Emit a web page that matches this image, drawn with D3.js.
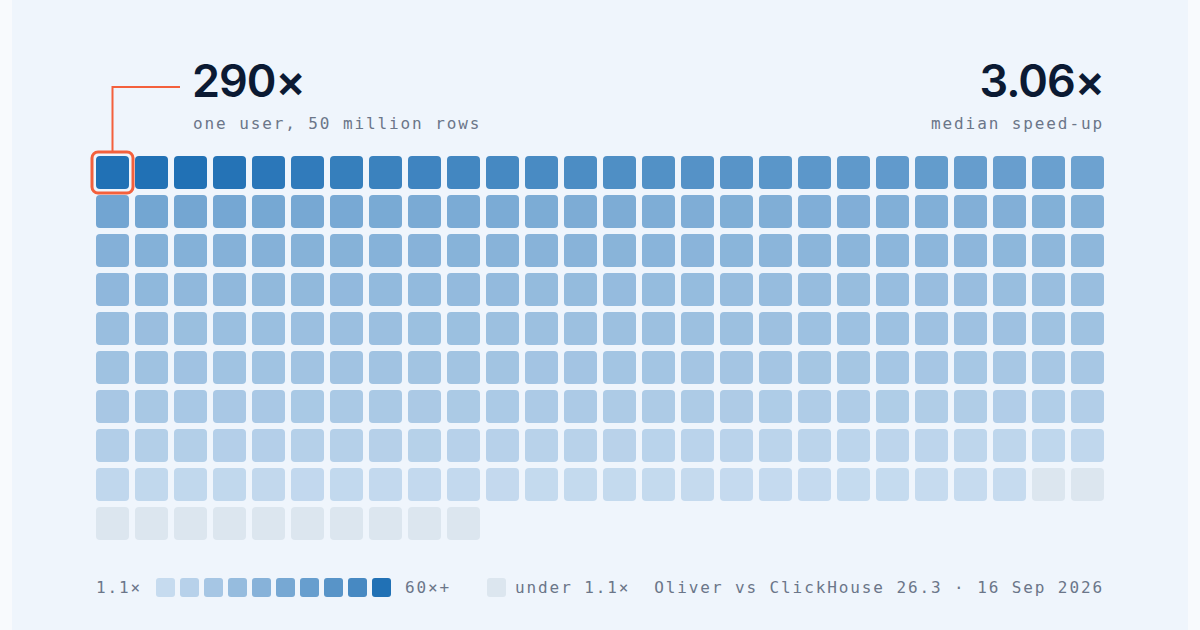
<!DOCTYPE html>
<html>
<head>
<meta charset="utf-8">
<script src="https://cdn.jsdelivr.net/npm/d3@7"></script>
<style>
  html, body { margin: 0; padding: 0; background: #f8fafd; }
  svg { display: block; }
</style>
</head>
<body>
<svg id="chart" width="1200" height="630"></svg>
<script>
// speed-up per query, sorted high to low
const speedups = [
  290, 84, 66, 55, 47, 41, 36, 32, 29, 26.5, 24.5, 22.5, 21, 19.5, 18.2, 17, 16, 15, 14.2, 13.4, 12.6, 12, 11.4, 10.8, 10.2, 9.6,
  8.4, 8.2, 8.0, 7.8, 7.6, 7.4, 7.25, 7.1, 6.95, 6.8, 6.7, 6.6, 6.5, 6.4, 6.3, 6.2, 6.1, 6.0, 5.95, 5.9, 5.85, 5.8, 5.75, 5.7, 5.65, 5.6,
  5.5, 5.45, 5.4, 5.35, 5.3, 5.25, 5.2, 5.15, 5.1, 5.05, 5.0, 4.95, 4.9, 4.85, 4.8, 4.75, 4.7, 4.65, 4.6, 4.55, 4.5, 4.45, 4.4, 4.35, 4.3, 4.25,
  4.2, 4.15, 4.1, 4.05, 4.0, 3.96, 3.92, 3.88, 3.84, 3.8, 3.76, 3.72, 3.68, 3.64, 3.6, 3.57, 3.54, 3.51, 3.48, 3.45, 3.42, 3.39, 3.36, 3.33, 3.3, 3.27,
  3.25, 3.23, 3.21, 3.19, 3.17, 3.15, 3.13, 3.11, 3.1, 3.09, 3.08, 3.07, 3.06, 3.06, 3.05, 3.04, 3.02, 3.0, 2.98, 2.96, 2.94, 2.92, 2.9, 2.88, 2.86, 2.84,
  2.82, 2.8, 2.78, 2.76, 2.74, 2.72, 2.7, 2.68, 2.66, 2.64, 2.62, 2.6, 2.58, 2.56, 2.54, 2.52, 2.5, 2.48, 2.46, 2.44, 2.42, 2.4, 2.38, 2.36, 2.34, 2.32,
  2.3, 2.28, 2.26, 2.24, 2.22, 2.2, 2.18, 2.16, 2.14, 2.12, 2.1, 2.08, 2.06, 2.04, 2.02, 2.0, 1.98, 1.96, 1.94, 1.92, 1.9, 1.88, 1.86, 1.84, 1.82, 1.8,
  1.78, 1.76, 1.74, 1.72, 1.7, 1.68, 1.66, 1.64, 1.62, 1.6, 1.58, 1.56, 1.54, 1.52, 1.5, 1.48, 1.46, 1.44, 1.42, 1.4, 1.38, 1.36, 1.34, 1.32, 1.3, 1.28,
  1.26, 1.25, 1.24, 1.23, 1.22, 1.21, 1.2, 1.19, 1.18, 1.17, 1.165, 1.16, 1.155, 1.15, 1.145, 1.14, 1.135, 1.13, 1.125, 1.12, 1.115, 1.11, 1.105, 1.1, 1.05, 1.02,
  1.0, 0.98, 0.95, 0.92, 0.9, 0.86, 0.82, 0.78, 0.7, 0.6
];
const headline = "290×";
const headlineSub = "one user, 50 million rows";
const median = "3.06×";
const medianSub = "median speed-up";
const legendSteps = [1.1, 1.6, 2.4, 3.5, 5.1, 7.5, 11, 16, 24, 60];
const legendLow = "1.1×", legendHigh = "60×+", legendUnder = "under 1.1×";
const source = "Oliver vs ClickHouse 26.3 · 16 Sep 2026";

const cols = 26, cell = 33, pitch = 39;
const gridLeft = 96, gridTop = 156;
const mono = "DejaVu Sans Mono, monospace";
const sans = "Inter, sans-serif";
const spacing = "1.9px";

const svg = d3.select("#chart");
svg.append("rect").attr("x", 12).attr("y", 0).attr("width", 1176).attr("height", 630).attr("fill", "#eff5fc");

const color = d3.scaleLog().domain([1.1, 60]).range(["#c6dbef", "#2171b5"])
  .interpolate(d3.interpolateRgb).clamp(true);
const fill = v => v < 1.1 ? "#dce6ef" : color(v);

const x = d3.scaleLinear().domain([0, 1]).range([gridLeft, gridLeft + pitch]);
const y = d3.scaleLinear().domain([0, 1]).range([gridTop, gridTop + pitch]);

svg.append("g").selectAll("rect")
  .data(speedups)
  .enter()
    .append("rect")
    .attr("x", (d, i) => x(i % cols))
    .attr("y", (d, i) => y(Math.floor(i / cols)))
    .attr("width", cell)
    .attr("height", cell)
    .attr("rx", 4)
    .attr("fill", d => fill(d));

// highlight on the biggest one
svg.append("rect")
  .attr("x", x(0) - 4).attr("y", y(0) - 4)
  .attr("width", cell + 8).attr("height", cell + 8).attr("rx", 6)
  .attr("fill", "none").attr("stroke", "#f4603c").attr("stroke-width", 3);
svg.append("path")
  .attr("d", `M${x(0) + cell / 2},${y(0) - 5}V87H180`)
  .attr("fill", "none").attr("stroke", "#f4603c").attr("stroke-width", 2);

svg.append("text").attr("x", 192).attr("y", 97)
  .style("font-family", sans).style("font-weight", 600).style("font-size", "45px").style("letter-spacing", "-1px")
  .attr("fill", "#0b1a33").text(headline);
svg.append("text").attr("x", 193).attr("y", 129)
  .style("font-family", mono).style("font-size", "16px").style("letter-spacing", spacing)
  .attr("fill", "#6b7689").text(headlineSub);
svg.append("text").attr("x", 1104).attr("y", 97).attr("text-anchor", "end")
  .style("font-family", sans).style("font-weight", 600).style("font-size", "45px").style("letter-spacing", "-1px")
  .attr("fill", "#0b1a33").text(median);
svg.append("text").attr("x", 1104).attr("y", 129).attr("text-anchor", "end")
  .style("font-family", mono).style("font-size", "16px").style("letter-spacing", spacing)
  .attr("fill", "#6b7689").text(medianSub);

// legend
const ly = 578;
const legend = svg.append("g").style("font-family", mono).style("font-size", "16px")
  .style("letter-spacing", spacing).attr("fill", "#6b7689");
legend.append("text").attr("x", 96).attr("y", ly + 15).text(legendLow);
const lx = d3.scaleLinear().domain([0, 1]).range([156, 180]);
legend.selectAll("rect.step")
  .data(legendSteps)
  .enter()
    .append("rect")
    .attr("class", "step")
    .attr("x", (d, i) => lx(i))
    .attr("y", ly)
    .attr("width", 19).attr("height", 19).attr("rx", 3)
    .attr("fill", d => fill(d));
legend.append("text").attr("x", 405).attr("y", ly + 15).text(legendHigh);
legend.append("rect").attr("x", 487).attr("y", ly).attr("width", 19).attr("height", 19).attr("rx", 3).attr("fill", fill(1.0));
legend.append("text").attr("x", 515).attr("y", ly + 15).text(legendUnder);
legend.append("text").attr("x", 1104).attr("y", ly + 15).attr("text-anchor", "end").text(source);
</script>
</body>
</html>
